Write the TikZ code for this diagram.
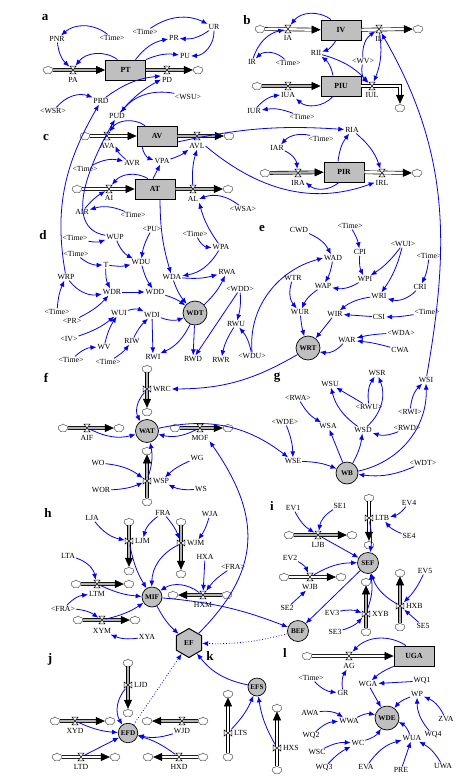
\documentclass[tikz,border=0pt]{standalone}
\usepackage{fontspec}
\setmainfont{Liberation Serif}
\usetikzlibrary{arrows.meta,shapes.symbols,shapes.geometric,calc}
\tikzset{
 lbl/.style={inner sep=0.8pt, font=\fontsize{7.8}{8}\selectfont, text=black},
 stock/.style={draw=black, line width=0.8pt, fill=gray!50, minimum width=40pt, minimum height=20pt, font=\bfseries\fontsize{7.8}{8}\selectfont, inner sep=0},
 aux/.style={circle, draw=black, line width=0.7pt, fill=gray!50, minimum size=22pt, inner sep=0, font=\bfseries\fontsize{7.2}{8}\selectfont},
 cld/.style={cloud, cloud puffs=7, cloud puff arc=130, aspect=1.3, draw=gray!60!black, line width=0.45pt, fill=white, inner sep=0, minimum width=10pt, minimum height=8pt},
 pipe/.style={draw=black, line width=0.65pt, double=gray!60, double distance=2.4pt},
 pipew/.style={pipe, double=white},
 ptip/.style={-{Triangle[length=9pt,width=8pt]}},
 vlvh/.style={inner sep=0, minimum width=7pt, minimum height=8pt},
 vlvv/.style={inner sep=0, minimum width=8pt, minimum height=7pt},
 con/.style={draw=blue, line width=0.8pt, -{Latex[length=6pt,width=5pt]}},
 dcon/.style={con, dotted},
 sec/.style={font=\bfseries\fontsize{13}{14}\selectfont, inner sep=0},
 valveh/.pic={\draw[line width=0.5pt, fill=white] (-3pt,-3.8pt) -- (3pt,-3.8pt) -- (-3pt,3.8pt) -- (3pt,3.8pt) -- cycle;},
 valvev/.pic={\draw[line width=0.5pt, fill=white] (-3.8pt,-3pt) -- (-3.8pt,3pt) -- (3.8pt,-3pt) -- (3.8pt,3pt) -- cycle;},
}
\begin{document}
\begin{tikzpicture}[x=1pt,y=-1pt]
\useasboundingbox[fill=white] (0,0) rectangle (475,781);
% ---------------- a
\node[sec] at (45,18) {a};
\node[lbl] (PNR) at (57,39) {PNR};
\node[lbl] (ta1) at (112,38) {<Time>};
\node[lbl] (ta2) at (145,32) {<Time>};
\node[lbl] (UR) at (214,27) {UR};
\node[lbl] (PR) at (174,38) {PR};
\node[lbl] (PU) at (185,56) {PU};
\node[stock] (PT) at (125.5,70) {PT};
\node[cld] (cPA) at (48,70) {};
\node[vlvh] (vPA) at (73,70) {};
\node[lbl] (PA) at (73,79.5) {PA};
\node[vlvh] (vPD) at (167,70) {};
\node[lbl] (PD) at (167,79.5) {PD};
\node[cld] (cPD) at (198,70) {};
\node[lbl] (PRD) at (101,101) {PRD};
\node[lbl] (sWSU) at (188,97) {<WSU>};
\node[lbl] (sWSR) at (53,111) {<WSR>};
\node[lbl] (PUD) at (117,116) {PUD};
% ---------------- b
\node[sec] at (247,20) {b};
\node[stock] (IV) at (341,30) {IV};
\node[cld] (cIA) at (260,29) {};
\node[vlvh] (vIA) at (288,29) {};
\node[lbl] (IA) at (288,37.5) {IA};
\node[vlvh] (vIL) at (379,29) {};
\node[lbl] (IL) at (379,39) {IL};
\node[cld] (cIL) at (418,29) {};
\node[lbl] (IR) at (252,62) {IR};
\node[lbl] (tb) at (288,63) {<Time>};
\node[lbl] (RII) at (316,53) {RII};
\node[lbl] (sWV) at (363,61) {<WV>};
\node[stock] (PIU) at (341,86) {PIU};
\node[cld] (cIUA) at (257,86) {};
\node[vlvh] (vIUA) at (288,86) {};
\node[lbl] (IUA) at (288,95) {IUA};
\node[vlvh] (vIUL) at (372,86) {};
\node[lbl] (IUL) at (372,94.5) {IUL};
\coordinate (kIUL) at (400,86);
\node[cld] (cIUL) at (400,108) {};
\node[lbl] (IUR) at (254,111) {IUR};
\node[lbl] (tc) at (302,117) {<Time>};
% ---------------- c
\node[sec] at (46,137) {c};
\node[stock] (AV) at (157,136) {AV};
\node[cld] (cAVA) at (85,136) {};
\node[vlvh] (vAVA) at (107,136) {};
\node[lbl] (AVA) at (107,146) {AVA};
\node[vlvh] (vAVL) at (197,136) {};
\node[lbl] (AVL) at (197,146) {AVL};
\node[cld] (cAVL) at (229,136) {};
\node[lbl] (AVR) at (132,163) {AVR};
\node[lbl] (VPA) at (162,161) {VPA};
\node[lbl] (tc1) at (85,169) {<Time>};
\node[stock] (AT) at (155,189) {AT};
\node[cld] (cAI) at (77,189) {};
\node[vlvh] (vAI) at (109,189) {};
\node[lbl] (AI) at (109,198) {AI};
\node[vlvh] (vAL) at (193,189) {};
\node[lbl] (AL) at (193,199) {AL};
\node[cld] (cAL) at (228,189) {};
\node[lbl] (AIR) at (82,212) {AIR};
\node[lbl] (tc2) at (133,215) {<Time>};
\node[lbl] (sWSA) at (243,209) {<WSA>};
\node[lbl] (RIA) at (352,130) {RIA};
\node[lbl] (IAR) at (277,148) {IAR};
\node[lbl] (tc3) at (321,139) {<Time>};
\node[stock] (PIR) at (344,172) {PIR};
\node[cld] (cIRA) at (265,173) {};
\node[vlvh] (vIRA) at (298,173) {};
\node[lbl] (IRA) at (298,182.5) {IRA};
\node[vlvh] (vIRL) at (382,173) {};
\node[lbl] (IRL) at (382,182.5) {IRL};
\node[cld] (cIRL) at (417,173) {};
% ---------------- d
\node[sec] at (43,235) {d};
\node[lbl] (td1) at (75,238) {<Time>};
\node[lbl] (WUP) at (115,237) {WUP};
\node[lbl] (sPU) at (152,229) {<PU>};
\node[lbl] (td2) at (195,234) {<Time>};
\node[lbl] (WPA) at (221,247) {WPA};
\node[lbl] (td3) at (76,254) {<Time>};
\node[lbl] (T) at (106,265) {T};
\node[lbl] (WDU) at (141,262) {WDU};
\node[lbl] (WRP) at (66,277) {WRP};
\node[lbl] (WDA) at (172,277) {WDA};
\node[lbl] (RWA) at (227,272) {RWA};
\node[lbl] (WDR) at (112,292) {WDR};
\node[lbl] (WDD) at (155,292) {WDD};
\node[aux, minimum size=24pt] (WDT) at (195,313) {WDT};
\node[lbl] (td4) at (57,312) {<Time>};
\node[lbl] (sPR) at (72,321) {<PR>};
\node[lbl] (WUI) at (119,313) {WUI};
\node[lbl] (WDI) at (152,315) {WDI};
\node[lbl] (sIV) at (69,339) {<IV>};
\node[lbl] (RIW) at (132,341) {RIW};
\node[lbl] (WV) at (104,347) {WV};
\node[lbl] (sWDD) at (240,289) {<WDD>};
\node[lbl] (RWU) at (236,324) {RWU};
\node[lbl] (td5) at (71,360) {<Time>};
\node[lbl] (td6) at (108,362) {<Time>};
\node[lbl] (RWI) at (153,357) {RWI};
\node[lbl] (RWD) at (193,359) {RWD};
\node[lbl] (RWR) at (221,360) {RWR};
\node[lbl] (sWDU) at (252,356) {<WDU>};
% ---------------- e
\node[sec] at (262,229) {e};
\node[lbl] (CWD) at (299,230) {CWD};
\node[lbl] (te1) at (350,226) {<Time>};
\node[lbl] (CPI) at (360,252) {CPI};
\node[lbl] (sWUI) at (403,244) {<WUI>};
\node[lbl] (te2) at (429,256) {<Time>};
\node[lbl] (WAD) at (333,258) {WAD};
\node[lbl] (WPI) at (365,279) {WPI};
\node[lbl] (CRI) at (420,287) {CRI};
\node[lbl] (WTR) at (293,278) {WTR};
\node[lbl] (WAP) at (323,286) {WAP};
\node[lbl] (WRI) at (379,296) {WRI};
\node[lbl] (WUR) at (300,312) {WUR};
\node[lbl] (WIR) at (335,314) {WIR};
\node[lbl] (CSI) at (379,317) {CSI};
\node[lbl] (te3) at (427,312) {<Time>};
\node[lbl] (sWDA) at (401,333) {<WDA>};
\node[lbl] (WAR) at (347,340) {WAR};
\node[aux, minimum size=24pt] (WRT) at (308,348) {WRT};
\node[lbl] (CWA) at (400,350) {CWA};
% ---------------- f
\node[sec] at (46,378) {f};
\node[cld] (cWRC1) at (147,369) {};
\node[vlvv] (vWRC) at (147,389) {};
\node[lbl, anchor=west] (WRC) at (152,389) {WRC};
\node[cld] (cWRC2) at (147,412) {};
\node[aux, minimum size=23pt] (WAT) at (147,431) {WAT};
\node[cld] (cAIF1) at (63,428) {};
\node[vlvh] (vAIF) at (87,428) {};
\node[lbl] (AIF) at (87,438) {AIF};
\node[cld] (cAIF2) at (119,428) {};
\node[cld] (cMOF1) at (175,428) {};
\node[vlvh] (vMOF) at (200,428) {};
\node[lbl] (MOF) at (200,437.5) {MOF};
\node[cld] (cMOF2) at (228,428) {};
\node[cld] (cWSP1) at (147,451) {};
\node[vlvv] (vWSP) at (147,481) {};
\node[lbl, anchor=west] (WSP) at (152,481) {WSP};
\node[cld] (cWSP2) at (147,502) {};
\node[lbl] (WO) at (98,463) {WO};
\node[lbl] (WG) at (197,458) {WG};
\node[lbl] (WOR) at (101,490) {WOR};
\node[lbl] (WS) at (201,489) {WS};
% ---------------- g
\node[sec] at (277,378) {g};
\node[lbl] (WSR) at (377,373) {WSR};
\node[lbl] (WSU) at (330,384) {WSU};
\node[lbl] (WSI) at (426,380) {WSI};
\node[lbl] (sRWA) at (298,398) {<RWA>};
\node[lbl] (sRWU) at (369,407) {<RWU>};
\node[lbl] (sRWI) at (410,412) {<RWI>};
\node[lbl] (sWDE) at (285,422) {<WDE>};
\node[lbl] (WSA) at (328,426) {WSA};
\node[lbl] (WSD) at (363,430) {WSD};
\node[lbl] (sRWD) at (407,428) {<RWD>};
\node[lbl] (WSE) at (293,461) {WSE};
\node[aux] (WB) at (347,473) {WB};
\node[lbl] (sWDT) at (423,463) {<WDT>};
% ---------------- h
\node[sec] at (48,513) {h};
\node[lbl] (LJA) at (92,518) {LJA};
\node[lbl] (FRA) at (163,513) {FRA};
\node[lbl] (WJA) at (210,514) {WJA};
\node[cld] (cLJM1) at (129,522) {};
\node[vlvv] (vLJM) at (129,541) {};
\node[lbl, anchor=west] (LJM) at (134,541) {LJM};
\node[cld] (cLJM2) at (129,571) {};
\node[cld] (cWJM1) at (181,522) {};
\node[vlvv] (vWJM) at (181,543) {};
\node[lbl, anchor=west] (WJM) at (186,543) {WJM};
\node[cld] (cWJM2) at (181,574) {};
\node[lbl] (LTA) at (68,556) {LTA};
\node[lbl] (HXA) at (205,557) {HXA};
\node[lbl] (sFRA2) at (233,567) {<FRA>};
\node[cld] (cLTM1) at (76,584) {};
\node[vlvh] (vLTM) at (97,584) {};
\node[lbl] (LTM) at (97,594) {LTM};
\node[cld] (cLTM2) at (129,584) {};
\node[aux, minimum size=20pt] (MIF) at (152,597) {MIF};
\node[cld] (cHXM1) at (173,595) {};
\node[vlvh] (vHXM) at (203,595) {};
\node[lbl] (HXM) at (203,605) {HXM};
\node[cld] (cHXM2) at (227,595) {};
\node[lbl] (sFRA1) at (63,609) {<FRA>};
\node[cld] (cXYM1) at (78,620) {};
\node[vlvh] (vXYM) at (102,620) {};
\node[lbl] (XYM) at (102,631) {XYM};
\node[cld] (cXYM2) at (135,620) {};
\node[lbl] (XYA) at (147,637) {XYA};
\node[regular polygon, regular polygon sides=6, regular polygon rotate=30, draw=black, line width=1pt, fill=gray!50, minimum size=29pt, inner sep=0, font=\bfseries\fontsize{7.5}{8}\selectfont] (EF) at (189,643) {EF};
\node[sec] at (210,656) {k};
% ---------------- i
\node[sec] at (272,506) {i};
\node[lbl] (EV1) at (293,508) {EV1};
\node[lbl] (SE1) at (340,506) {SE1};
\node[cld] (cLTB1) at (369,498) {};
\node[vlvv] (vLTB) at (369,518) {};
\node[lbl, anchor=west] (LTB) at (374,518) {LTB};
\node[cld] (cLTB2) at (369,545) {};
\node[lbl] (EV4) at (409,503) {EV4};
\node[lbl] (SE4) at (409,536) {SE4};
\node[cld] (cLJB1) at (289,535) {};
\node[vlvh] (vLJB) at (318,535) {};
\node[lbl] (LJB) at (318,545) {LJB};
\node[cld] (cLJB2) at (352,535) {};
\node[aux, minimum size=21pt] (SEF) at (368,563) {SEF};
\node[lbl] (EV2) at (290,558) {EV2};
\node[lbl] (EV5) at (425,571) {EV5};
\node[cld] (cWJB1) at (284,577) {};
\node[vlvh] (vWJB) at (310,577) {};
\node[lbl] (WJB) at (310,587) {WJB};
\node[cld] (cWJB2) at (341,577) {};
\node[cld] (cHXB1) at (400,627) {};
\node[vlvv] (vHXB) at (400,606) {};
\node[lbl, anchor=west] (HXB) at (405,606) {HXB};
\node[cld] (cHXB2) at (400,573) {};
\node[cld] (cXYB1) at (366,632) {};
\node[vlvv] (vXYB) at (366,614) {};
\node[lbl, anchor=west] (XYB) at (371,614) {XYB};
\node[cld] (cXYB2) at (366,582) {};
\node[lbl] (SE2) at (287,608) {SE2};
\node[lbl] (EV3) at (332,613) {EV3};
\node[lbl] (SE3) at (335,632) {SE3};
\node[lbl] (SE5) at (423,626) {SE5};
\node[aux, minimum size=21pt] (BEF) at (298,631) {BEF};
% ---------------- j
\node[sec] at (50,659) {j};
\node[cld] (cLJD1) at (128,663) {};
\node[vlvv] (vLJD) at (128,685) {};
\node[lbl, anchor=west] (LJD) at (133,685) {LJD};
\node[cld] (cLJD2) at (128,713) {};
\node[aux, minimum size=19.5pt] (EFD) at (128,733) {EFD};
\node[cld] (cXYD1) at (55,721) {};
\node[vlvh] (vXYD) at (75,721) {};
\node[lbl] (XYD) at (75,731) {XYD};
\node[cld] (cXYD2) at (110,721) {};
\node[cld] (cWJD1) at (147,721) {};
\node[vlvh] (vWJD) at (182,721) {};
\node[lbl] (WJD) at (182,731) {WJD};
\node[cld] (cWJD2) at (203,721) {};
\node[cld] (cLTD1) at (57,757) {};
\node[vlvh] (vLTD) at (81,757) {};
\node[lbl] (LTD) at (81,767) {LTD};
\node[cld] (cLTD2) at (115,757) {};
\node[cld] (cHXD1) at (148,757) {};
\node[vlvh] (vHXD) at (179,757) {};
\node[lbl] (HXD) at (179,767) {HXD};
\node[cld] (cHXD2) at (203,757) {};
% ---------------- k
\node[aux, minimum size=18pt] (EFS) at (257,687) {EFS};
\node[cld] (cLTS2) at (228,694) {};
\node[vlvv] (vLTS) at (228,733) {};
\node[lbl, anchor=west] (LTS) at (233,733) {LTS};
\node[cld] (cLTS1) at (228,757) {};
\node[cld] (cHXS2) at (277,708) {};
\node[vlvv] (vHXS) at (277,748) {};
\node[lbl, anchor=west] (HXS) at (282,748) {HXS};
\node[cld] (cHXS1) at (277,770) {};
% ---------------- l
\node[sec] at (285,653) {l};
\node[stock] (UGA) at (414,656) {UGA};
\node[cld] (cAG) at (307,656) {};
\node[vlvh] (vAG) at (349,656) {};
\node[lbl] (AG) at (349,666) {AG};
\node[lbl] (tl) at (311,678) {<Time>};
\node[lbl] (GR) at (343,693) {GR};
\node[lbl] (WGA) at (368,684) {WGA};
\node[lbl] (WQ1) at (422,681) {WQ1};
\node[lbl] (WP) at (417,694) {WP};
\node[aux, minimum size=24pt] (WDE) at (387,718) {WDE};
\node[lbl] (AWA) at (310,713) {AWA};
\node[lbl] (ZVA) at (446,719) {ZVA};
\node[lbl] (WWA) at (349,721) {WWA};
\node[lbl] (WQ2) at (311,736) {WQ2};
\node[lbl] (WQ4) at (433,735) {WQ4};
\node[lbl] (WUA) at (412,738) {WUA};
\node[lbl] (WSC) at (317,752) {WSC};
\node[lbl] (WC) at (358,743) {WC};
\node[lbl] (WQ3) at (324,768) {WQ3};
\node[lbl] (EVA) at (366,767) {EVA};
\node[lbl] (PRE) at (401,770) {PRE};
\node[lbl] (UWA) at (443,766) {UWA};

% ================= pipes
\draw[pipe, ptip] (cPA) -- (PT);
\draw[pipe, ptip] (PT) -- (cPD);
\draw[pipew, ptip] (cIA) -- (IV);
\draw[pipew, ptip] (IV) -- (cIL);
\draw[pipe, ptip] (cIUA) -- (PIU);
\draw[pipew, ptip] (PIU) -- (kIUL) -- (cIUL);
\draw[pipew, ptip] (cAVA) -- (AV);
\draw[pipe, ptip] (AV) -- (cAVL);
\draw[pipew, ptip] (cAI) -- (AT);
\draw[pipe, ptip] (AT) -- (cAL);
\draw[pipe, ptip] (cIRA) -- (PIR);
\draw[pipew, ptip] (PIR) -- (cIRL);
\draw[pipe, ptip] (cWRC1) -- (cWRC2);
\draw[pipe, ptip] (cAIF1) -- (cAIF2);
\draw[pipe, ptip] (cMOF1) -- (cMOF2);
\draw[pipe, ptip] (cWSP2) -- (cWSP1);
\draw[pipe, ptip] (cLJM1) -- (cLJM2);
\draw[pipe, ptip] (cWJM1) -- (cWJM2);
\draw[pipe, ptip] (cLTM1) -- (cLTM2);
\draw[pipe, ptip] (cHXM2) -- (cHXM1);
\draw[pipe, ptip] (cXYM1) -- (cXYM2);
\draw[pipew, ptip] (cLTB1) -- (cLTB2);
\draw[pipe, ptip] (cLJB1) -- (cLJB2);
\draw[pipew, ptip] (cWJB1) -- (cWJB2);
\draw[pipe, ptip] (cHXB1) -- (cHXB2);
\draw[pipe, ptip] (cXYB1) -- (cXYB2);
\draw[pipe, ptip] (cLJD1) -- (cLJD2);
\draw[pipe, ptip] (cXYD1) -- (cXYD2);
\draw[pipe, ptip] (cWJD2) -- (cWJD1);
\draw[pipew, ptip] (cLTD1) -- (cLTD2);
\draw[pipew, ptip] (cHXD2) -- (cHXD1);
\draw[pipew, ptip] (cLTS1) -- (cLTS2);
\draw[pipew, ptip] (cHXS1) -- (cHXS2);
\draw[pipew, ptip] (cAG) -- (UGA);
% valves
\foreach \v in {vPA,vPD,vIA,vIL,vIUA,vIUL,vAVA,vAVL,vAI,vAL,vIRA,vIRL,vAIF,vMOF,vLTM,vHXM,vXYM,vLJB,vWJB,vXYD,vWJD,vLTD,vHXD,vAG}
  {\pic at (\v) {valveh};}
\foreach \v in {vWRC,vWSP,vLJM,vWJM,vLTB,vHXB,vXYB,vLJD,vLTS,vHXS}
  {\pic at (\v) {valvev};}

% ================= connectors
% a
\draw[con] (ta1) to[bend right=40] (PNR);
\draw[con] (PNR) to[bend right=20] (vPA);
\draw[con] ([xshift=-8pt]PT.north) to[bend right=45] (vPA);
\draw[con] (ta2) to[bend left=30] (UR);
\draw[con] (UR) to[bend left=20] (PR);
\draw[con] (UR) to[bend left=45] (PU);
\draw[con] ([xshift=10pt]PT.north) to[bend left=20] (PR);
\draw[con] (PT.north east) to[bend left=15] (PU);
\draw[con] (PRD) to[bend left=15] (PD.north west);
\draw[con] (PUD) to[bend left=10] (PD.west);
\draw[con] (sWSU) to[bend right=30] (PUD);
\draw[con] (sWSR) to[bend left=35] (PRD);
\draw[con] (WRP) to[out=100, in=240] (PRD);
\draw[con] (WUP) to[out=170, in=240] (PUD);
% b
\draw[con] ([xshift=-10pt]IV.north) to[bend right=45] (vIA);
\draw[con] (IR) to[bend left=30] (vIA);
\draw[con] (tb) to[bend right=45] (IR);
\draw[con] ([xshift=-5pt]IV.south) to[bend left=20] (RII);
\draw[con] (RII) to[bend left=15] (vIUL);
\draw[con] ([xshift=-8pt]PIU.north) to[bend right=20] (RII);
\draw[con] (sWV) to[bend left=30] (vIL);
\draw[con] (sWV) to[bend right=30] (vIUL);
\draw[con] (vIL) to[bend left=15] (vIUL);
\draw[con] ([xshift=-8pt]PIU.south) to[bend left=45] (IUA.south east);
\draw[con] (IUR) to[bend left=20] (IUA.west);
\draw[con] (tc) to[bend right=15] (IUR);
\draw[con] (WSI) to[out=80, in=-60] (vIL);
% c
\draw[con] ([xshift=-12pt]AV.north) to[bend right=45] (vAVA);
\draw[con] (AVR) to[bend left=15] (AVA.east);
\draw[con] (tc1) to[bend left=20] (AVR);
\draw[con] ([xshift=-15pt]AV.south) to[bend right=30] (VPA);
\draw[con] (VPA) to[bend right=10] (AVL.south west);
\draw[con] ([xshift=-2pt]AT.north) -- (VPA);
\draw[con] ([xshift=-7pt]AT.north) to[bend right=40] (vAI);
\draw[con] (AIR) to[bend left=10] (vAI);
\draw[con] (tc2) to[bend right=20] (AIR);
\draw[con] (vAL) to[bend left=10] (AVL.south);
\draw[con] (sWSA) to[bend right=30] (AL.east);
\draw[con] (WPA) to[bend left=10] (AL.south east);
\draw[con] ([yshift=-6pt]AV.east) to[bend left=8] (RIA);
\draw[con] (AVL.east) to[out=-40, in=200] (IRL.west);
\draw[con] ([xshift=-6pt]PIR.north) to[bend left=15] (RIA);
\draw[con] (RIA) to[bend left=15] (vIRL);
\draw[con] (IAR) to[bend left=30] (vIRA);
\draw[con] (tc3) to[bend right=30] (IAR);
\draw[con] ([xshift=-5pt]PIR.south) to[bend left=40] (IRA.east);
% d
\draw[con] (td1) to[bend right=15] (WUP);
\draw[con] (WUP) to[bend right=20] (WDU);
\draw[con] (sPU) to[bend right=10] (WDU);
\draw[con] (td3) to[bend right=20] (T);
\draw[con] (T) to[bend right=10] (WDU);
\draw[con] (T) to[bend right=15] (WDR);
\draw[con] (WDU) to[bend right=10] (WDD);
\draw[con] (WDR) -- (WDD);
\draw[con] (WRP) to[bend right=30] (WDR);
\draw[con] (td4) to[bend left=10] (WRP);
\draw[con] (sPR) to[bend right=10] (WDR);
\draw[con] (WDD) to[bend left=10] (WDT);
\draw[con] (WDA) to[bend right=10] (WDT);
\draw[con] (WPA) to[bend left=25] (WDA);
\draw[con] (WDA) to[bend right=10] (RWA);
\draw[con] (WDT) to[bend right=10] (RWA);
\draw[con] (td2) to[bend right=30] (WPA);
\draw[con] ([xshift=5pt]AT.south) to[bend right=8] (WDA);
\draw[con] (WUI) to[bend left=20] (WDI);
\draw[con] (sIV) to[bend right=10] (WUI);
\draw[con] (WV) to[bend left=10] (WUI);
\draw[con] (WDI) to[bend right=20] (WDT);
\draw[con] (RIW) to[bend left=10] (WDI);
\draw[con] (td5) to[bend left=20] (WV);
\draw[con] (td6) to[bend right=10] (RIW);
\draw[con] (WDI) -- (RWI);
\draw[con] (WDT) to[bend left=20] (RWI);
\draw[con] (WDT) -- (RWD);
\draw[con] (sWDD) to[bend left=10] (RWU);
\draw[con] (sWDD) -- (RWD);
\draw[con] (sWDU) to[bend right=15] (RWU);
\draw[con] (RWU) to[bend right=10] (RWR);
% e
\draw[con] (CWD) to[bend left=20] (WAD);
\draw[con] (te1) to[bend left=10] (CPI);
\draw[con] (CPI) to[bend right=15] (WPI);
\draw[con] (sWUI) to[bend left=10] (WPI);
\draw[con] (sWUI) to[bend left=10] (WRI);
\draw[con] (te2) to[bend left=10] (CRI);
\draw[con] (CRI) to[bend left=30] (WRI);
\draw[con] (WAD) to[bend left=10] (WAP);
\draw[con] (WPI) to[bend left=20] (WAP);
\draw[con] (WTR) to[bend right=30] (WUR);
\draw[con] (WAP) to[bend right=15] (WUR);
\draw[con] (WRI) to[bend right=15] (WIR);
\draw[con] (CSI) -- (WIR);
\draw[con] (te3) to[bend left=5] (CSI);
\draw[con] (WUR) to[bend right=5] (WRT);
\draw[con] (WIR) -- (WRT);
\draw[con] (sWDA) to[bend right=5] (WAR);
\draw[con] (CWA) to[bend right=5] (WAR);
\draw[con] (WAR) to[bend left=30] (WRT);
\draw[con] (sWDU.north) to[out=95, in=195] (WAD.west);
% f
\draw[con] (WRT) to[bend left=15] (WRC.east);
\draw[con] (vWRC) to[bend right=35] (WAT);
\draw[con] (vAIF) to[bend right=20] (WAT);
\draw[con] (vMOF) to[bend left=20] (WAT);
\draw[con] (WAT) to[bend left=25] (WSE);
\draw[con] (vWSP) to[bend right=15] (WAT);
\draw[con] (WO) to[bend left=15] (vWSP);
\draw[con] (WG) to[bend right=10] (WSP);
\draw[con] (WOR) to[bend right=10] (vWSP);
\draw[con] (WS) to[bend left=15] (WSP);
\draw[con] (EF) to[out=45, in=-55, looseness=1.2] (MOF.south east);
% g
\draw[con] (sRWA) to[bend right=15] (WSA);
\draw[con] (sWDE) to[bend left=10] (WSE);
\draw[con] (WSE) to[bend left=10] (WB);
\draw[con] (WB) -- (WSA);
\draw[con] (WB) to[bend right=10] (WSD);
\draw[con] (WSD) to[bend left=20] (WSU);
\draw[con] (WSD) to[bend right=35] (WSR);
\draw[con] (sRWU) -- (WSU);
\draw[con] (sRWU) to[bend left=20] (WSR);
\draw[con] (sRWD) to[bend left=20] (WSD);
\draw[con] (sRWI) to[bend left=20] (WSI);
\draw[con] (WB) to[bend right=40] (WSI);
\draw[con] (sWDT) to[bend left=15] (WB);
% h
\draw[con] (LJA) to[bend right=20] (vLJM);
\draw[con] (FRA) to[bend right=20] (LJM);
\draw[con] (FRA) to[bend left=10] (vWJM);
\draw[con] (WJA) to[bend left=10] (WJM);
\draw[con] (vLJM) to[bend right=10] (MIF);
\draw[con] (vWJM) to[bend right=30] (MIF);
\draw[con] (LTA) to[bend left=30] (vLTM);
\draw[con] (vLTM) to[bend right=10] (MIF);
\draw[con] (sFRA1) to[bend left=20] (LTM);
\draw[con] (sFRA1) to[bend left=15] (vXYM);
\draw[con] (vXYM) to[bend right=10] (MIF);
\draw[con] (XYA) to[bend left=15] (XYM);
\draw[con] (HXA) -- (vHXM);
\draw[con] (sFRA2) to[bend right=10] (vHXM);
\draw[con] (vHXM) to[bend right=35] (MIF);
\draw[con] (MIF) to[bend right=10] (EF);
\draw[con] (MIF) to[bend left=8] (BEF);
% i
\draw[con] (EV1) to[bend right=15] (vLJB);
\draw[con] (SE1) to[bend right=25] (vLJB);
\draw[con] (vLJB) -- (SEF);
\draw[con] (EV4) to[bend left=20] (LTB);
\draw[con] (SE4) to[bend left=15] (LTB);
\draw[con] (vLTB) to[bend left=10] (SEF);
\draw[con] (EV2) to[bend left=20] (vWJB);
\draw[con] (vWJB) to[bend left=15] (SEF);
\draw[con] (SE2) -- (WJB);
\draw[con] (EV3) to[bend left=15] (vXYB);
\draw[con] (SE3) to[bend right=15] (vXYB);
\draw[con] (vXYB) to[bend right=15] (SEF);
\draw[con] (EV5) to[bend left=10] (vHXB);
\draw[con] (SE5) -- (vHXB);
\draw[con] (vHXB) to[bend left=20] (SEF);
\draw[con] (SEF) -- (BEF);
\draw[dcon] (BEF) to[bend left=8] (EF);
% j
\draw[con] (vLJD) to[bend right=35] (EFD);
\draw[con] (vXYD) to[bend right=10] (EFD);
\draw[con] (WJD) to[bend left=15] (EFD);
\draw[con] (vLTD) -- (EFD);
\draw[con] (vHXD) to[bend right=10] (EFD);
\draw[dcon] (EFD) -- (EF);
% k
\draw[con] (vLTS) to[bend right=10] (EFS);
\draw[con] (vHXS) to[bend left=10] (EFS);
\draw[con] (EFS) to[bend left=20] (EF);
% l
\draw[con] ([xshift=-8pt]UGA.north) to[bend right=40] (vAG);
\draw[con] (GR) to[bend left=20] (AG);
\draw[con] (tl) to[bend right=20] (GR);
\draw[con] (UGA.south west) to[bend right=10] (WGA);
\draw[con] (WQ1) -- (WGA);
\draw[con] (WGA) -- (WDE);
\draw[con] (WP) to[bend right=15] (WDE);
\draw[con] (ZVA) to[bend right=20] (WP);
\draw[con] (WQ4) to[bend left=20] (WP);
\draw[con] (AWA) to[bend left=20] (WWA);
\draw[con] (WQ2) to[bend left=20] (WWA);
\draw[con] (WWA) to[bend left=20] (WDE);
\draw[con] (WSC) to[bend left=15] (WC);
\draw[con] (WQ3) to[bend left=10] (WC);
\draw[con] (WC) to[bend right=20] (WDE);
\draw[con] (WUA) to[bend right=20] (WDE);
\draw[con] (EVA) to[bend left=20] (WUA);
\draw[con] (PRE) -- (WUA);
\draw[con] (UWA) to[bend right=15] (WUA);
\end{tikzpicture}
\end{document}
